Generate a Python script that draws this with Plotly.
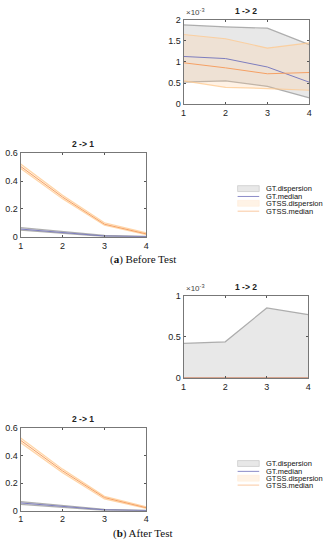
import plotly.graph_objects as go

W, H = 327, 550

steps = [1, 2, 3, 4]

# ---- (a) Before Test, 1 -> 2 (units of 1e-3)
a12_gt_hi = [1.88, 1.83, 1.80, 1.41]
a12_gt_lo = [0.52, 0.55, 0.42, 0.15]
a12_gt_med = [1.13, 1.08, 0.88, 0.52]
a12_gtss_hi = [1.65, 1.55, 1.33, 1.45]
a12_gtss_lo = [0.55, 0.40, 0.37, 0.33]
a12_gtss_med = [0.98, 0.86, 0.72, 0.75]

# ---- (a) Before Test, 2 -> 1
a21_gt_hi = [0.065, 0.038, 0.009, 0.002]
a21_gt_lo = [0.047, 0.024, 0.002, 0.0]
a21_gt_med = [0.055, 0.030, 0.005, 0.001]
a21_gtss_hi = [0.522, 0.298, 0.100, 0.027]
a21_gtss_lo = [0.490, 0.272, 0.082, 0.015]
a21_gtss_med = [0.505, 0.285, 0.090, 0.020]

# ---- (b) After Test, 1 -> 2 (units of 1e-3)
b12_gt_hi = [0.42, 0.44, 0.85, 0.77]
b12_gt_lo = [0.0, 0.0, 0.0, 0.0]
b12_gt_med = [0.0, 0.0, 0.0, 0.0]
b12_gtss_hi = [0.0, 0.0, 0.0, 0.0]
b12_gtss_lo = [0.0, 0.0, 0.0, 0.0]
b12_gtss_med = [0.0, 0.0, 0.0, 0.0]

# ---- (b) After Test, 2 -> 1
b21_gt_hi = [0.066, 0.039, 0.010, 0.002]
b21_gt_lo = [0.046, 0.023, 0.002, 0.0]
b21_gt_med = [0.056, 0.031, 0.006, 0.001]
b21_gtss_hi = [0.528, 0.302, 0.104, 0.028]
b21_gtss_lo = [0.494, 0.275, 0.085, 0.016]
b21_gtss_med = [0.511, 0.289, 0.095, 0.021]

legend_labels = ["GT.dispersion", "GT.median", "GTSS.dispersion", "GTSS.median"]
titles = ["1 -> 2", "2 -> 1", "1 -> 2", "2 -> 1"]
captions = ["(<b>a</b>) Before Test", "(<b>b</b>) After Test"]

GT_FILL = "rgba(195,195,195,0.38)"
GT_EDGE = "rgba(150,150,150,0.75)"
GT_MED = "rgb(125,125,190)"
SS_FILL = "rgba(255,205,150,0.25)"
SS_EDGE = "rgba(255,200,140,0.75)"
SS_MED = "rgb(245,160,100)"


def px_x(x):
    return x / W


def px_y(y):
    return 1 - y / H


fig = go.Figure()

panels = [
    (a12_gt_hi, a12_gt_lo, a12_gt_med, a12_gtss_hi, a12_gtss_lo, a12_gtss_med,
     (184, 312), (15, 101), [0, 0.5, 1, 1.5, 2], 2, True),
    (a21_gt_hi, a21_gt_lo, a21_gt_med, a21_gtss_hi, a21_gtss_lo, a21_gtss_med,
     (18, 146), (151, 236), [0, 0.2, 0.4, 0.6], 0.6, False),
    (b12_gt_hi, b12_gt_lo, b12_gt_med, b12_gtss_hi, b12_gtss_lo, b12_gtss_med,
     (184, 311), (296, 380), [0, 0.5, 1], 1, True),
    (b21_gt_hi, b21_gt_lo, b21_gt_med, b21_gtss_hi, b21_gtss_lo, b21_gtss_med,
     (18, 146), (431, 515), [0, 0.2, 0.4, 0.6], 0.6, False),
]

annotations = []
shapes = []
layout_axes = {}

for i, (gh, gl, gm, sh, sl, sm, xp, yp, yt, ymax, expo) in enumerate(panels):
    n = i + 1
    xa = "x" if n == 1 else f"x{n}"
    ya = "y" if n == 1 else f"y{n}"
    xk = "xaxis" if n == 1 else f"xaxis{n}"
    yk = "yaxis" if n == 1 else f"yaxis{n}"

    fig.add_trace(go.Scatter(x=steps, y=gl, xaxis=xa, yaxis=ya, mode="lines",
                             line=dict(color=GT_EDGE, width=1.2), showlegend=False,
                             hoverinfo="skip"))
    fig.add_trace(go.Scatter(x=steps, y=gh, xaxis=xa, yaxis=ya, mode="lines",
                             line=dict(color=GT_EDGE, width=1.2), fill="tonexty",
                             fillcolor=GT_FILL, showlegend=False, hoverinfo="skip"))
    fig.add_trace(go.Scatter(x=steps, y=sl, xaxis=xa, yaxis=ya, mode="lines",
                             line=dict(color=SS_EDGE, width=1.2), showlegend=False,
                             hoverinfo="skip"))
    fig.add_trace(go.Scatter(x=steps, y=sh, xaxis=xa, yaxis=ya, mode="lines",
                             line=dict(color=SS_EDGE, width=1.2), fill="tonexty",
                             fillcolor=SS_FILL, showlegend=False, hoverinfo="skip"))
    fig.add_trace(go.Scatter(x=steps, y=gm, xaxis=xa, yaxis=ya, mode="lines",
                             line=dict(color=GT_MED, width=1), showlegend=False))
    fig.add_trace(go.Scatter(x=steps, y=sm, xaxis=xa, yaxis=ya, mode="lines",
                             line=dict(color=SS_MED, width=1), showlegend=False))

    layout_axes[xk] = dict(
        domain=[px_x(xp[0]), px_x(xp[1])], anchor=ya, range=[1, 4],
        tickvals=steps, ticks="inside", ticklen=2, tickcolor="#555",
        showline=True, linecolor="#777", linewidth=1, mirror="ticks",
        showgrid=False, zeroline=False,
        tickfont=dict(family="Liberation Sans, Arial", size=9, color="#222"),
    )
    layout_axes[yk] = dict(
        domain=[px_y(yp[1]), px_y(yp[0])], anchor=xa, range=[0, ymax],
        tickvals=yt, ticktext=[f"{v:g}" for v in yt], ticks="inside", ticklen=2,
        tickcolor="#555", showline=True, linecolor="#777", linewidth=1,
        mirror="ticks", showgrid=False, zeroline=False,
        tickfont=dict(family="Liberation Sans, Arial", size=9, color="#222"),
    )
    annotations.append(dict(
        text=f"<b>{titles[i]}</b>", xref="paper", yref="paper",
        x=px_x((xp[0] + xp[1]) / 2), y=px_y(yp[0] - 2), xanchor="center",
        yanchor="bottom", showarrow=False,
        font=dict(family="Liberation Sans, Arial", size=8.5, color="#222")))
    if expo:
        annotations.append(dict(
            text="×10<sup>-3</sup>", xref="paper", yref="paper",
            x=px_x(xp[0]), y=px_y(yp[0] - 1), xanchor="left",
            yanchor="bottom", showarrow=False,
            font=dict(family="Liberation Sans, Arial", size=8, color="#444")))

legend_rows = [(187, 195, 202, 210), (467, 475, 482, 489)]
for rows in legend_rows:
    x0, x1, xt = 239, 261, 266
    shapes.append(dict(type="rect", xref="paper", yref="paper",
                       x0=px_x(x0), x1=px_x(x1), y0=px_y(rows[0] + 3), y1=px_y(rows[0] - 3),
                       fillcolor="rgb(232,232,232)", line=dict(color="rgb(205,205,205)", width=0.8)))
    shapes.append(dict(type="line", xref="paper", yref="paper",
                       x0=px_x(x0), x1=px_x(x1), y0=px_y(rows[1]), y1=px_y(rows[1]),
                       line=dict(color="rgb(140,140,200)", width=1)))
    shapes.append(dict(type="rect", xref="paper", yref="paper",
                       x0=px_x(x0), x1=px_x(x1), y0=px_y(rows[2] + 3), y1=px_y(rows[2] - 3),
                       fillcolor="rgb(255,243,230)", line=dict(color="rgb(255,236,218)", width=0.6)))
    shapes.append(dict(type="line", xref="paper", yref="paper",
                       x0=px_x(x0), x1=px_x(x1), y0=px_y(rows[3]), y1=px_y(rows[3]),
                       line=dict(color="rgb(250,200,160)", width=1)))
    for lab, ry in zip(legend_labels, rows):
        annotations.append(dict(
            text=lab, xref="paper", yref="paper", x=px_x(xt), y=px_y(ry),
            xanchor="left", yanchor="middle", showarrow=False,
            font=dict(family="Liberation Sans, Arial", size=7.5, color="#111")))

for cap, cy in zip(captions, [259, 538]):
    annotations.append(dict(
        text=cap, xref="paper", yref="paper", x=px_x(143), y=px_y(cy),
        xanchor="center", yanchor="middle", showarrow=False,
        font=dict(family="Liberation Serif, Times New Roman", size=11, color="#111")))

fig.update_layout(
    width=W, height=H, margin=dict(l=0, r=0, t=0, b=0),
    paper_bgcolor="white", plot_bgcolor="white", showlegend=False,
    annotations=annotations, shapes=shapes, **layout_axes,
)

fig.write_html("out.html", config={"displayModeBar": False},
               post_script="document.body.style.margin='0';")
